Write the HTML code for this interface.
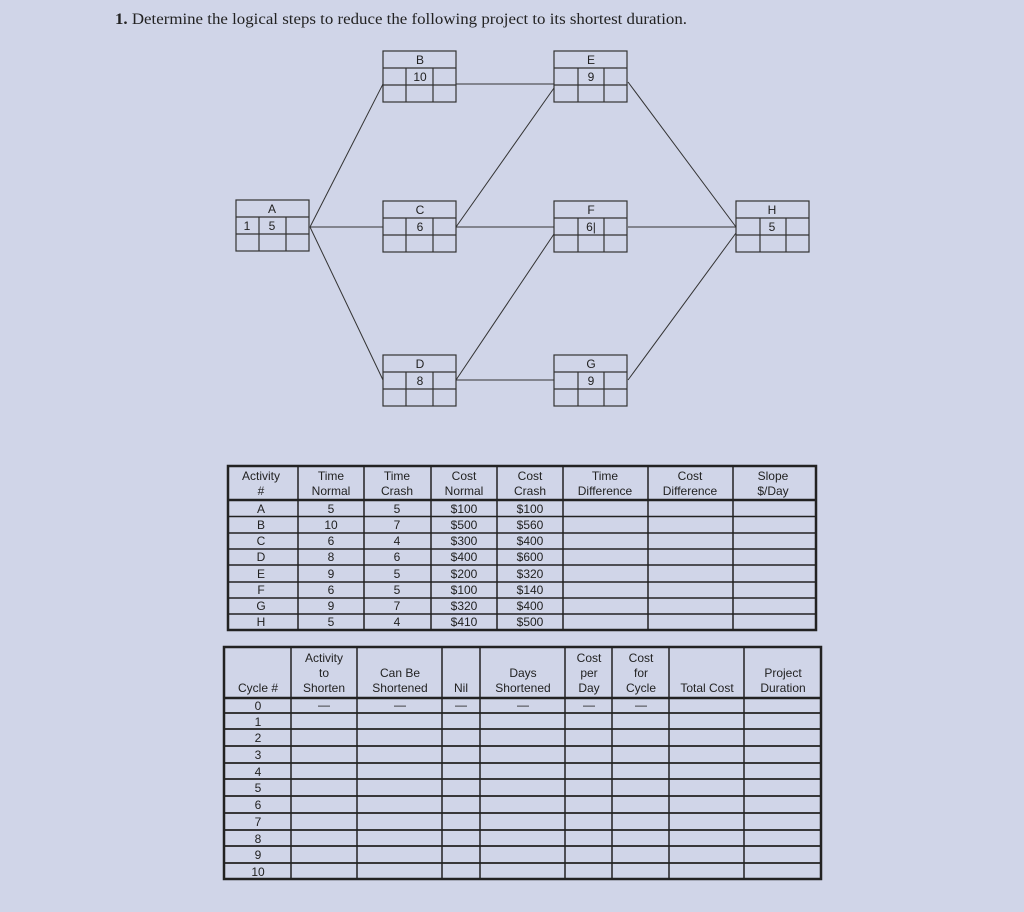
<!DOCTYPE html>
<html><head><meta charset="utf-8"><style>
html,body{margin:0;padding:0;background:#d0d5e8;}
svg{display:block}
text{font-family:"Liberation Sans",sans-serif;font-size:12px;fill:#222;text-anchor:middle}
</style></head><body>
<svg width="1024" height="912" viewBox="0 0 1024 912" xmlns="http://www.w3.org/2000/svg">
<rect width="1024" height="912" fill="#d0d5e8"/>
<text x="115" y="24" style="font-family:'Liberation Serif',serif;font-size:16px;text-anchor:start" textLength="572" lengthAdjust="spacingAndGlyphs"><tspan style="font-weight:bold">1.</tspan>  Determine the logical steps to reduce the following project to its shortest duration.</text>

<g stroke="#333" stroke-width="1" fill="none">
<line x1="310" y1="227" x2="383" y2="84"/>
<line x1="310" y1="227" x2="383" y2="227"/>
<line x1="310" y1="227" x2="383" y2="380"/>
<line x1="456" y1="84" x2="554" y2="84"/>
<line x1="456" y1="227" x2="554" y2="88"/>
<line x1="456" y1="227" x2="554" y2="227"/>
<line x1="456" y1="380" x2="554" y2="234"/>
<line x1="456" y1="380" x2="554" y2="380"/>
<line x1="628" y1="82" x2="736" y2="227"/>
<line x1="628" y1="227" x2="736" y2="227"/>
<line x1="628" y1="380" x2="736" y2="233"/>
</g>

<g stroke="#333" stroke-width="1.2" fill="#d0d5e8">
<!-- A --><rect x="236" y="200" width="73" height="51"/><path d="M236 217H309M236 234H309M259 217V251M286 217V251" fill="none"/>
<!-- B --><rect x="383" y="51" width="73" height="51"/><path d="M383 68H456M383 85H456M406 68V102M433 68V102" fill="none"/>
<!-- C --><rect x="383" y="201" width="73" height="51"/><path d="M383 218H456M383 235H456M406 218V252M433 218V252" fill="none"/>
<!-- D --><rect x="383" y="355" width="73" height="51"/><path d="M383 372H456M383 389H456M406 372V406M433 372V406" fill="none"/>
<!-- E --><rect x="554" y="51" width="73" height="51"/><path d="M554 68H627M554 85H627M578 68V102M604 68V102" fill="none"/>
<!-- F --><rect x="554" y="201" width="73" height="51"/><path d="M554 218H627M554 235H627M578 218V252M604 218V252" fill="none"/>
<!-- G --><rect x="554" y="355" width="73" height="51"/><path d="M554 372H627M554 389H627M578 372V406M604 372V406" fill="none"/>
<!-- H --><rect x="736" y="201" width="73" height="51"/><path d="M736 218H809M736 235H809M760 218V252M786 218V252" fill="none"/>
</g>
<text x="272" y="213">A</text><text x="247" y="230">1</text><text x="272" y="230">5</text>
<text x="420" y="64">B</text><text x="420" y="81">10</text>
<text x="420" y="214">C</text><text x="420" y="231">6</text>
<text x="420" y="368">D</text><text x="420" y="385">8</text>
<text x="591" y="64">E</text><text x="591" y="81">9</text>
<text x="591" y="214">F</text><text x="591" y="231">6|</text>
<text x="591" y="368">G</text><text x="591" y="385">9</text>
<text x="772" y="214">H</text><text x="772" y="231">5</text>

<!-- Table 1 -->
<g stroke="#222" fill="none">
<path d="M228 516.5H816M228 533H816M228 549H816M228 565H816M228 582H816M228 598H816M228 614H816" stroke-width="1.5"/>
<path d="M298 466V630M364 466V630M431 466V630M497 466V630M563 466V630M648 466V630M733 466V630" stroke-width="1.5"/>
<line x1="228" y1="500" x2="816" y2="500" stroke-width="2.5"/>
<rect x="228" y="466" width="588" height="164" stroke-width="2.5"/>
</g>
<text x="261" y="480">Activity</text><text x="261" y="495">#</text>
<text x="331" y="480">Time</text><text x="331" y="495">Normal</text>
<text x="397" y="480">Time</text><text x="397" y="495">Crash</text>
<text x="464" y="480">Cost</text><text x="464" y="495">Normal</text>
<text x="530" y="480">Cost</text><text x="530" y="495">Crash</text>
<text x="605" y="480">Time</text><text x="605" y="495">Difference</text>
<text x="690" y="480">Cost</text><text x="690" y="495">Difference</text>
<text x="773" y="480">Slope</text><text x="773" y="495">$/Day</text>
<g>
<text x="261" y="513">A</text><text x="331" y="513">5</text><text x="397" y="513">5</text><text x="464" y="513">$100</text><text x="530" y="513">$100</text>
<text x="261" y="529">B</text><text x="331" y="529">10</text><text x="397" y="529">7</text><text x="464" y="529">$500</text><text x="530" y="529">$560</text>
<text x="261" y="545">C</text><text x="331" y="545">6</text><text x="397" y="545">4</text><text x="464" y="545">$300</text><text x="530" y="545">$400</text>
<text x="261" y="561">D</text><text x="331" y="561">8</text><text x="397" y="561">6</text><text x="464" y="561">$400</text><text x="530" y="561">$600</text>
<text x="261" y="578">E</text><text x="331" y="578">9</text><text x="397" y="578">5</text><text x="464" y="578">$200</text><text x="530" y="578">$320</text>
<text x="261" y="594">F</text><text x="331" y="594">6</text><text x="397" y="594">5</text><text x="464" y="594">$100</text><text x="530" y="594">$140</text>
<text x="261" y="610">G</text><text x="331" y="610">9</text><text x="397" y="610">7</text><text x="464" y="610">$320</text><text x="530" y="610">$400</text>
<text x="261" y="626">H</text><text x="331" y="626">5</text><text x="397" y="626">4</text><text x="464" y="626">$410</text><text x="530" y="626">$500</text>
</g>

<!-- Table 2 -->
<g stroke="#222" fill="none">
<path d="M224 713H821M224 729H821M224 746H821M224 763H821M224 779H821M224 796H821M224 813H821M224 830H821M224 846H821M224 863H821" stroke-width="1.8"/>
<path d="M291 647V879M357 647V879M442 647V879M480 647V879M565 647V879M612 647V879M669 647V879M744 647V879" stroke-width="1.5"/>
<line x1="224" y1="698" x2="821" y2="698" stroke-width="2.5"/>
<rect x="224" y="647" width="597" height="232" stroke-width="2.5"/>
</g>
<text x="258" y="692">Cycle #</text>
<text x="324" y="662">Activity</text><text x="324" y="677">to</text><text x="324" y="692">Shorten</text>
<text x="400" y="677">Can Be</text><text x="400" y="692">Shortened</text>
<text x="461" y="692">Nil</text>
<text x="523" y="677">Days</text><text x="523" y="692">Shortened</text>
<text x="589" y="662">Cost</text><text x="589" y="677">per</text><text x="589" y="692">Day</text>
<text x="641" y="662">Cost</text><text x="641" y="677">for</text><text x="641" y="692">Cycle</text>
<text x="707" y="692">Total Cost</text>
<text x="783" y="677">Project</text><text x="783" y="692">Duration</text>
<text x="258" y="710">0</text>
<text x="324" y="709">—</text><text x="400" y="709">—</text><text x="461" y="709">—</text><text x="523" y="709">—</text><text x="589" y="709">—</text><text x="641" y="709">—</text>
<text x="258" y="726">1</text><text x="258" y="742">2</text><text x="258" y="759">3</text><text x="258" y="776">4</text><text x="258" y="792">5</text><text x="258" y="809">6</text><text x="258" y="826">7</text><text x="258" y="843">8</text><text x="258" y="859">9</text><text x="258" y="876">10</text>
</svg>
</body></html>
